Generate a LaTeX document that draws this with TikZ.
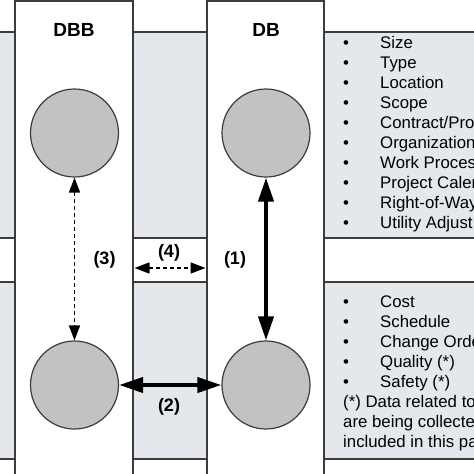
\documentclass[tikz,border=0pt]{standalone}
\usepackage{fontspec}
\setmainfont{Liberation Sans}
\usetikzlibrary{arrows.meta}
\definecolor{bandgray}{HTML}{E4E7EB}
\definecolor{dotgray}{HTML}{C2C2C2}
\definecolor{edgegray}{HTML}{3C3C3C}

\begin{document}
\begin{tikzpicture}[x=1pt,y=1pt]
\tikzset{
  stage/.style={circle,draw=edgegray,line width=1.2pt,fill=dotgray,minimum size=88pt,inner sep=0pt},
  heading/.style={font=\fontsize{19}{21}\selectfont\bfseries},
  tag/.style={font=\fontsize{18}{20}\selectfont\bfseries},
  item/.style={anchor=base west,inner sep=0pt,font=\fontsize{16.8}{20}\selectfont},
  dot/.style={anchor=base,inner sep=0pt,font=\fontsize{16.8}{20}\selectfont},
  strong/.style={line width=4pt,{Triangle[length=24pt,width=15pt]}-{Triangle[length=24pt,width=15pt]}},
  weak/.style={line width=1.6pt,dash pattern=on 4pt off 3pt,{Triangle[length=15pt,width=11pt]}-{Triangle[length=15pt,width=11pt]}}
}
\useasboundingbox (0,0) rectangle (474,-474);
\clip (0,0) rectangle (474,-474);
% bands
\draw [edgegray,line width=1.5pt,fill=bandgray] (-5,-32) rectangle (480,-238);
\draw [edgegray,line width=1.5pt,fill=bandgray] (-5,-282) rectangle (480,-459);
% columns
\draw [edgegray,line width=1.8pt,fill=white] (15,-480) -- (15,-1) -- (133,-1) -- (133,-480);
\draw [edgegray,line width=1.8pt,fill=white] (207,-480) -- (207,-1) -- (324,-1) -- (324,-480);
\node [heading] (dbbhead) at (74,-30) {DBB};
\node [heading] (dbhead) at (266,-30) {DB};
% stages
\node [stage] (dbbtop) at (74.5,-133) {};
\node [stage] (dbtop) at (266,-133) {};
\node [stage] (dbbbot) at (74.5,-385) {};
\node [stage] (dbbot) at (266,-385) {};
% links
\draw [strong] (dbtop) -- (dbbot);
\draw [strong] (dbbbot) -- (dbbot);
\draw [weak] (dbbtop) -- (dbbbot);
\coordinate (gapl) at (134.5,-268);
\coordinate (gapr) at (205.5,-268);
\draw [weak] (gapl) -- (gapr);
\node [tag] (t3) at (104.5,-260) {(3)};
\node [tag] (t4) at (169,-253) {(4)};
\node [tag] (t1) at (235,-260) {(1)};
\node [tag] (t2) at (169,-407) {(2)};
% lists
\foreach \txt [count=\i from 0] in {Size,Type,Location,Scope,Contract/Pro,Organization,Work Proces,Project Calen,Right-of-Way,Utility Adjust}
  {\node [dot] at (346,-48.5-20*\i) {•};
   \node [item] at (380,-48.5-20*\i) {\txt};}
\foreach \txt [count=\i from 0] in {Cost,Schedule,Change Orde,Quality (*),Safety (*)}
  {\node [dot] at (346,-307-20*\i) {•};
   \node [item] at (380,-307-20*\i) {\txt};}
\node [item] (note1) at (343,-407) {(*) Data related to};
\node [item] (note2) at (343,-427) {are being collecte};
\node [item] (note3) at (343,-447) {included in this pa};
\end{tikzpicture}
\end{document}
